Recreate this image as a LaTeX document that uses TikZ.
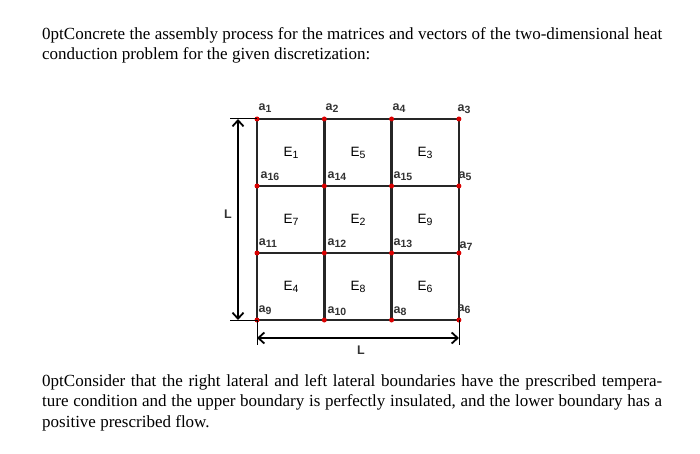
\documentclass[tikz,border=0pt]{standalone}
\usepackage{fontspec}
\setmainfont{Liberation Serif}
\newfontfamily\lab{Liberation Sans}
\newcommand{\sbs}[1]{\raisebox{-0.35ex}{\fontsize{10.5}{10}\selectfont #1}}
\usetikzlibrary{arrows.meta}
\begin{document}
\begin{tikzpicture}[x=1pt,y=-1pt,
  gl/.style={line width=2.8pt,black!85},
  dot/.style={circle,fill=red!85!black,inner sep=0pt,minimum size=5pt},
  al/.style={font=\lab\bfseries\fontsize{12.5}{12}\selectfont,inner sep=0pt,text=black!80},
  el/.style={font=\lab\fontsize{13.5}{12}\selectfont,inner sep=0pt},
  para/.style={font=\fontsize{17}{20.5}\selectfont\hyphenpenalty=10000\exhyphenpenalty=10000,text width=620pt,align=justify,anchor=north west,inner sep=0pt},
  dim/.style={line width=1.8pt,{Straight Barb[length=6pt,width=11pt]}-{Straight Barb[length=6pt,width=11pt]}}]
\useasboundingbox (0,0) rectangle (700,454);
\node[para] (t1) at (42,27) {Concrete the assembly process for the matrices and vectors of the two-dimensional heat conduction problem for the given discretization:};
\node[para] (t2) at (42,374) {Consider that the right lateral and left lateral boundaries have the prescribed temperature condition and the upper boundary is perfectly insulated, and the lower boundary has a positive prescribed flow.};
% grid
\foreach \i in {0,1,2,3}{
  \draw[gl] (257+67.3*\i,119) -- (257+67.3*\i,320);
  \draw[gl] (257,119+67*\i) -- (459,119+67*\i);
}
\foreach \i in {0,1,2,3}\foreach \j in {0,1,2,3}{\node[dot] at (257+67.3*\i,119+67*\j) {};}
% node labels
\node[al] (a1) at (265,108) {a\sbs{1}};
\node[al] (a2) at (332,108) {a\sbs{2}};
\node[al] (a4) at (399,108) {a\sbs{4}};
\node[al] (a3) at (464,109) {a\sbs{3}};
\node[al] (a16) at (270,176) {a\sbs{16}};
\node[al] (a14) at (337,176) {a\sbs{14}};
\node[al] (a15) at (403,176) {a\sbs{15}};
\node[al] (a5) at (465,176) {a\sbs{5}};
\node[al] (a11) at (268,243) {a\sbs{11}};
\node[al] (a12) at (337,243) {a\sbs{12}};
\node[al] (a13) at (403,243) {a\sbs{13}};
\node[al] (a7) at (466,246) {a\sbs{7}};
\node[al] (a9) at (265,310) {a\sbs{9}};
\node[al] (a10) at (337,311) {a\sbs{10}};
\node[al] (a8) at (400,311) {a\sbs{8}};
\node[al] (a6) at (464,309) {a\sbs{6}};
% element labels
\node[el] (E1) at (291,153) {E\sbs{1}};
\node[el] (E5) at (358,153) {E\sbs{5}};
\node[el] (E3) at (425,153) {E\sbs{3}};
\node[el] (E7) at (291,220) {E\sbs{7}};
\node[el] (E2) at (358,220) {E\sbs{2}};
\node[el] (E9) at (425,220) {E\sbs{9}};
\node[el] (E4) at (291,287) {E\sbs{4}};
\node[el] (E8) at (358,287) {E\sbs{8}};
\node[el] (E6) at (425,287) {E\sbs{6}};
% dimensions
\coordinate (vt) at (238,119); \coordinate (vb) at (238,320);
\coordinate (hl) at (257,338); \coordinate (hr) at (459,338);
\draw[line width=1pt] (230,119) -- (257,119);
\draw[line width=1pt] (230,320) -- (257,320);
\draw[line width=1pt] (257,320) -- (257,345);
\draw[line width=1pt] (459,320) -- (459,345);
\draw[dim] (vt) -- (vb);
\draw[dim] (hl) -- (hr);
\node[al] (Lv) at (228,214) {L};
\node[al] (Lh) at (361,350) {L};
\end{tikzpicture}
\end{document}
